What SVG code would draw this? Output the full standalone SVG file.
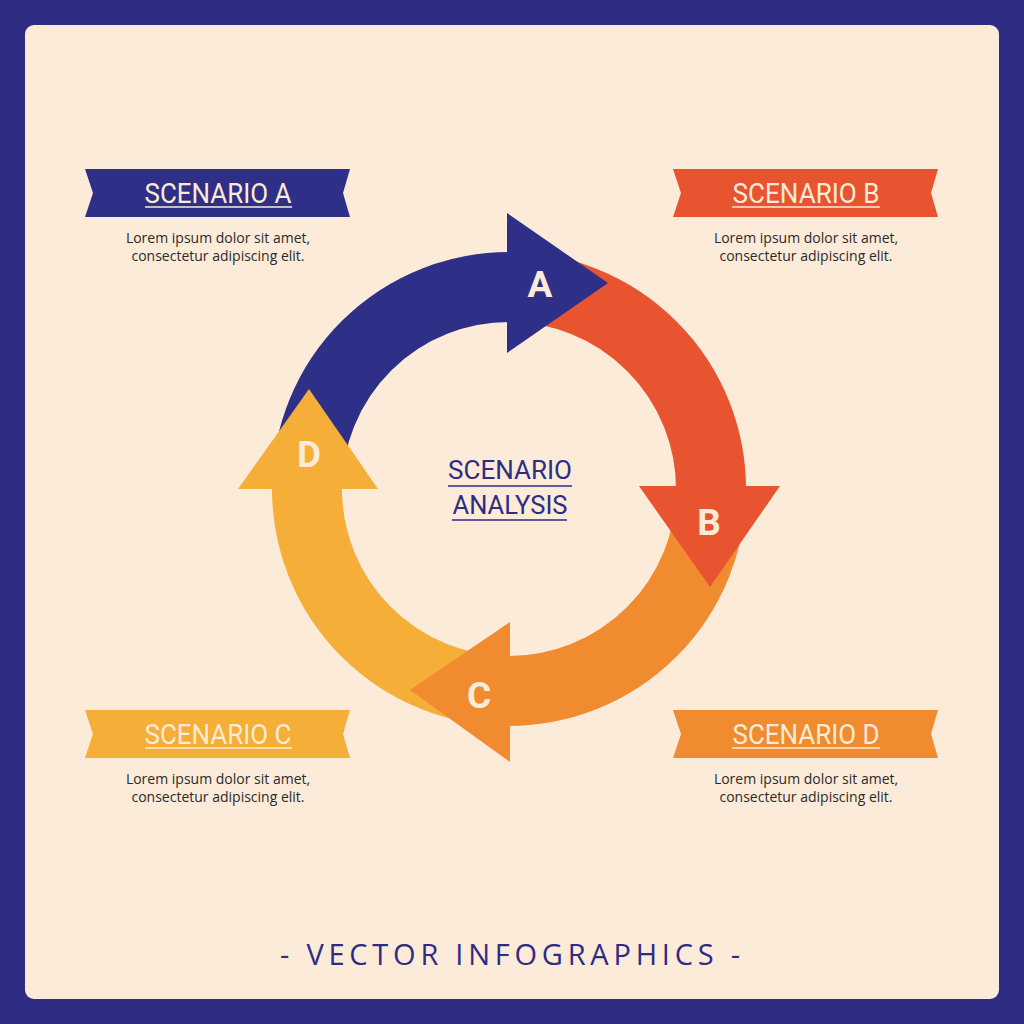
<svg xmlns="http://www.w3.org/2000/svg" width="1024" height="1024" viewBox="0 0 1024 1024">
<defs>
<style>
.arc{fill:none;stroke-width:70;stroke-linecap:butt}
.lbl{font-family:Roboto,"Open Sans",sans-serif;font-weight:700;font-size:37px;fill:#FCEBD6;text-anchor:middle}
.btitle{font-family:Roboto,"Open Sans",sans-serif;font-weight:400;font-size:27px;fill:#FCEBD6;text-anchor:middle}
.body{font-family:"Open Sans","Noto Sans",sans-serif;font-size:14px;fill:#2A2A2A;text-anchor:middle}
.uline{stroke-width:1.6}
.ctitle{font-family:Roboto,"Open Sans",sans-serif;font-weight:400;font-size:25px;fill:#2E2D83;text-anchor:middle}
</style>
</defs>
<rect x="0" y="0" width="1024" height="1024" fill="#2E2D83"/>
<rect x="25" y="25" width="974" height="974" rx="9" fill="#FCEBD9"/>

<g id="connectors">
<path class="arc" stroke="#2E2F86" d="M 307 487 A 202 202 0 0 1 509 287"/>
<path class="arc" stroke="#E85330" d="M 509 287 A 202 202 0 0 1 711 489"/>
<path class="arc" stroke="#F08B30" d="M 711 489 A 202 202 0 0 1 509 691"/>
<path class="arc" stroke="#F5AE37" d="M 509 691 A 202 202 0 0 1 307 489"/>
</g>

<g id="arrow-a">
<polygon points="507,213 608,283 507,353" fill="#2E2F86"/>
<text class="lbl" x="540" y="297">A</text>
</g>
<g id="arrow-b">
<polygon points="639,486 780,486 710,587" fill="#E85330"/>
<text class="lbl" x="709" y="535">B</text>
</g>
<g id="arrow-c">
<polygon points="510,622 510,762 410,690" fill="#F08B30"/>
<text class="lbl" x="479" y="708">C</text>
</g>
<g id="arrow-d">
<polygon points="238,489 378,489 309,389" fill="#F5AE37"/>
<text class="lbl" x="309" y="467">D</text>
</g>

<g id="center-title">
<text class="ctitle" x="510" y="479" textLength="124" lengthAdjust="spacingAndGlyphs">SCENARIO</text>
<line class="uline" x1="448" y1="486" x2="572" y2="486" stroke="#2E2D83"/>
<text class="ctitle" x="510" y="514" textLength="115" lengthAdjust="spacingAndGlyphs">ANALYSIS</text>
<line class="uline" x1="452" y1="520" x2="567" y2="520" stroke="#2E2D83"/>
</g>

<g id="scenario-a">
<polygon points="85,169 350,169 343,193 350,217 85,217 93,193" fill="#2E2F86"/>
<text class="btitle" x="218" y="203" textLength="147" lengthAdjust="spacingAndGlyphs">SCENARIO A</text>
<line class="uline" x1="145" y1="207" x2="292" y2="207" stroke="#FCEBD6"/>
<text class="body" x="218" y="243">Lorem ipsum dolor sit amet,</text>
<text class="body" x="218" y="261">consectetur adipiscing elit.</text>
</g>

<g id="scenario-b">
<polygon points="673,169 938,169 931,193 938,217 673,217 681,193" fill="#E85330"/>
<text class="btitle" x="806" y="203" textLength="147" lengthAdjust="spacingAndGlyphs">SCENARIO B</text>
<line class="uline" x1="732" y1="207" x2="880" y2="207" stroke="#FCEBD6"/>
<text class="body" x="806" y="243">Lorem ipsum dolor sit amet,</text>
<text class="body" x="806" y="261">consectetur adipiscing elit.</text>
</g>

<g id="scenario-c">
<polygon points="85,710 350,710 343,734 350,758 85,758 93,734" fill="#F5AE37"/>
<text class="btitle" x="218" y="744" textLength="147" lengthAdjust="spacingAndGlyphs">SCENARIO C</text>
<line class="uline" x1="145" y1="748" x2="292" y2="748" stroke="#FCEBD6"/>
<text class="body" x="218" y="784">Lorem ipsum dolor sit amet,</text>
<text class="body" x="218" y="802">consectetur adipiscing elit.</text>
</g>

<g id="scenario-d">
<polygon points="673,710 938,710 931,734 938,758 673,758 681,734" fill="#F08B30"/>
<text class="btitle" x="806" y="744" textLength="147" lengthAdjust="spacingAndGlyphs">SCENARIO D</text>
<line class="uline" x1="732" y1="748" x2="880" y2="748" stroke="#FCEBD6"/>
<text class="body" x="806" y="784">Lorem ipsum dolor sit amet,</text>
<text class="body" x="806" y="802">consectetur adipiscing elit.</text>
</g>

<g id="footer">
<text x="510" y="965" font-family="'Open Sans','Noto Sans',sans-serif" font-size="29" fill="#2E2D83" text-anchor="middle" textLength="460" lengthAdjust="spacing">- VECTOR INFOGRAPHICS -</text>
</g>
</svg>
